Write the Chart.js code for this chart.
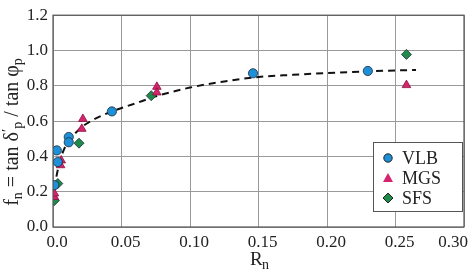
<!DOCTYPE html>
<html>
<head>
<meta charset="utf-8">
<script src="https://cdn.jsdelivr.net/npm/chart.js@4"></script>
<style>
html,body{margin:0;padding:0;background:#fff;}
#wrap{width:474px;height:274px;position:relative;}
</style>
</head>
<body>
<div id="wrap"><canvas id="c" width="474" height="274"></canvas></div>
<script>
const seriesNames = ['VLB', 'MGS', 'SFS'];
const vlbR = [0.001, 0.0028, 0.0035, 0.0115, 0.0115, 0.043, 0.146, 0.2298];
const vlbF = [0.237, 0.434, 0.368, 0.51, 0.48, 0.655, 0.871, 0.884];
const mgsR = [0.001, 0.001, 0.006, 0.0055, 0.021, 0.0218, 0.0758, 0.0758, 0.258];
const mgsF = [0.17, 0.19, 0.377, 0.35, 0.556, 0.612, 0.794, 0.762, 0.804];
const sfsR = [0.001, 0.0035, 0.019, 0.0717, 0.258];
const sfsF = [0.15, 0.246, 0.475, 0.744, 0.978];
const fitR = [0.0005, 0.002, 0.004, 0.007, 0.01, 0.015, 0.02, 0.03, 0.043, 0.06, 0.075, 0.1, 0.125, 0.15, 0.175, 0.2, 0.23, 0.265];
const fitF = [0.15, 0.26, 0.34, 0.42, 0.47, 0.52, 0.56, 0.61, 0.655, 0.70, 0.74, 0.79, 0.825, 0.85, 0.862, 0.872, 0.882, 0.89];
const xTicks = [0, 0.05, 0.10, 0.15, 0.20, 0.25, 0.30];
const xTickLabels = ['0.0', '0.05', '0.10', '0.15', '0.20', '0.25', '0.30'];
const yTicks = [0, 0.2, 0.4, 0.6, 0.8, 1.0, 1.2];
const yTickLabels = ['0.0', '0.2', '0.4', '0.6', '0.8', '1.0', '1.2'];

const colors = {VLB: '#1e90d8', MGS: '#d6246e', SFS: '#1f8a4a'};
const shapes = {VLB: 'circle', MGS: 'triangle', SFS: 'rectRot'};
const FONT = '"Liberation Serif", "Times New Roman", serif';

const pts = (xs, ys) => xs.map((x, i) => ({x: x, y: ys[i]}));

const decor = {
  id: 'decor',
  afterDraw(chart) {
    const ctx = chart.ctx, a = chart.chartArea;
    ctx.save();
    // plot border
    ctx.strokeStyle = '#555';
    ctx.lineWidth = 1.2;
    ctx.strokeRect(a.left, a.top, a.right - a.left, a.bottom - a.top);
    // x tick labels
    const xs = chart.scales.x;
    ctx.fillStyle = '#222';
    ctx.font = '17px ' + FONT;
    ctx.textBaseline = 'alphabetic';
    ctx.textAlign = 'center';
    xTicks.forEach((v, i) => {
      let px = xs.getPixelForValue(v) + 4;
      if (i === xTicks.length - 1) px = xs.getPixelForValue(v) - 11;
      ctx.fillText(xTickLabels[i], px, a.bottom + 20);
    });
    // legend box
    const lx = 373, ly = 142, lw = 89, lh = 69;
    ctx.fillStyle = '#fff';
    ctx.fillRect(lx, ly, lw, lh);
    ctx.strokeStyle = '#555';
    ctx.lineWidth = 1;
    ctx.strokeRect(lx + 0.5, ly + 0.5, lw, lh);
    ctx.font = '18px ' + FONT;
    ctx.textBaseline = 'middle';
    seriesNames.forEach((n, i) => {
      const cy = ly + 16 + i * 20;
      const cx = lx + 15;
      ctx.fillStyle = colors[n];
      ctx.strokeStyle = '#222';
      ctx.lineWidth = 1;
      ctx.beginPath();
      if (shapes[n] === 'circle') {
        ctx.arc(cx, cy, 4.2, 0, Math.PI * 2);
      } else if (shapes[n] === 'triangle') {
        ctx.moveTo(cx, cy - 5); ctx.lineTo(cx + 5, cy + 4); ctx.lineTo(cx - 5, cy + 4); ctx.closePath();
      } else {
        ctx.moveTo(cx, cy - 5); ctx.lineTo(cx + 5, cy); ctx.lineTo(cx, cy + 5); ctx.lineTo(cx - 5, cy); ctx.closePath();
      }
      ctx.fill();
      if (n !== 'MGS') ctx.stroke();
      ctx.fillStyle = '#222';
      ctx.textAlign = 'left';
      ctx.fillText(n, lx + 29, cy + 1);
    });
    // x title: R_n
    ctx.fillStyle = '#222';
    ctx.textBaseline = 'alphabetic';
    ctx.font = '19px ' + FONT;
    ctx.textAlign = 'left';
    ctx.fillText('R', 250, 265);
    ctx.font = '14px ' + FONT;
    ctx.fillText('n', 262, 269);
    // y title
    ctx.translate(18, 132);
    ctx.rotate(-Math.PI / 2);
    const parts = [
      ['f', 20, 0], ['n', 14, 4], [' = tan δ', 20, 0], ['′', 15, -6], ['p', 14, 4], [' / tan φ', 20, 0], ['p', 14, 4]
    ];
    let total = 0;
    parts.forEach(p => { ctx.font = p[1] + 'px ' + FONT; total += ctx.measureText(p[0]).width; });
    let x = -total / 2;
    parts.forEach(p => {
      ctx.font = p[1] + 'px ' + FONT;
      ctx.fillText(p[0], x, p[2]);
      x += ctx.measureText(p[0]).width;
    });
    ctx.restore();
  }
};

const mk = (name, xs, ys) => ({
  label: name,
  data: pts(xs, ys),
  showLine: false,
  pointStyle: shapes[name],
  pointRadius: name === 'VLB' ? 4.6 : 5,
  pointBackgroundColor: colors[name],
  pointBorderColor: name === 'MGS' ? '#8a1040' : '#1a2a3a',
  pointBorderWidth: 0.8,
  order: 1
});

new Chart(document.getElementById('c'), {
  type: 'scatter',
  data: {
    datasets: [
      {
        label: 'fit',
        data: pts(fitR, fitF),
        showLine: true,
        borderColor: '#111',
        borderWidth: 2,
        borderDash: [7, 5],
        pointRadius: 0,
        tension: 0.4,
        cubicInterpolationMode: 'monotone',
        order: 2
      },
      mk('VLB', vlbR, vlbF),
      mk('MGS', mgsR, mgsF),
      mk('SFS', sfsR, sfsF)
    ]
  },
  options: {
    responsive: false,
    animation: false,
    devicePixelRatio: 1,
    layout: {padding: {left: 0, top: 14, right: 10, bottom: 0}},
    plugins: {legend: {display: false}, tooltip: {enabled: false}},
    scales: {
      x: {
        type: 'linear', min: 0, max: 0.3,
        afterFit(s) { s.height = 47; s.paddingRight = 0; s.paddingLeft = 0; },
        afterBuildTicks(s) { s.ticks = xTicks.map(v => ({value: v})); },
        grid: {color: '#9a9a9a', lineWidth: 1, drawTicks: false},
        border: {display: false},
        ticks: {display: false}
      },
      y: {
        type: 'linear', min: 0, max: 1.2,
        afterFit(s) { s.width = 53; },
        afterBuildTicks(s) { s.ticks = yTicks.map(v => ({value: v})); },
        grid: {color: '#9a9a9a', lineWidth: 1, drawTicks: false},
        border: {display: false},
        ticks: {
          padding: 5, color: '#222', autoSkip: false,
          font: {family: FONT, size: 17},
          callback: (v) => { const i = yTicks.findIndex(t => Math.abs(t - v) < 1e-9); return i >= 0 ? yTickLabels[i] : ''; }
        }
      }
    }
  },
  plugins: [decor]
});
</script>
</body>
</html>
